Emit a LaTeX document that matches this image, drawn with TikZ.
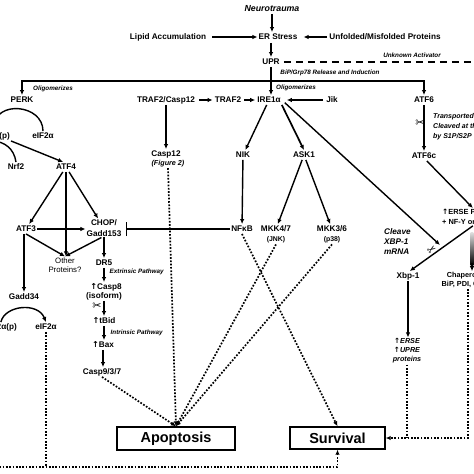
\documentclass[tikz,border=0pt]{standalone}
\usepackage{fontspec}
\setmainfont{Liberation Sans}
\newfontfamily\dv{DejaVu Sans}
\usetikzlibrary{arrows.meta}
\newcommand\upar{{\dv ↑}}
\begin{document}
\begin{tikzpicture}[x=1pt,y=-1pt,
  lb/.style={font=\bfseries\fontsize{8.2}{10}\selectfont, inner sep=1pt, text height=6pt, text depth=1.5pt},
  lbm/.style={font=\bfseries\fontsize{8.2}{10.5}\selectfont, inner sep=1pt, align=center},
  lbs/.style={font=\bfseries\fontsize{6.9}{8}\selectfont, inner sep=1pt},
  smit/.style={font=\bfseries\itshape\fontsize{6.3}{7}\selectfont, inner sep=0.5pt},
  regl/.style={font=\fontsize{7.8}{9}\selectfont, inner sep=1pt, align=center},
  outbox/.style={draw, line width=1.4pt, font=\bfseries\fontsize{14.5}{16}\selectfont, inner sep=0pt},
  scis/.style={font=\dv\fontsize{11}{11}\selectfont, inner sep=0pt},
  ln/.style={line width=1.4pt},
  arr/.style={ln, -{Latex[length=5pt,width=4.5pt]}},
  inh/.style={ln, -{Bar[width=14pt,line width=1.4pt]}},
  dot/.style={line width=1.7pt, dash pattern=on 1.7pt off 1.6pt},
  dotarr/.style={dot, -{Latex[length=5pt,width=4.5pt]}},
  dsh/.style={line width=1.4pt, dash pattern=on 7pt off 5pt}]
\useasboundingbox (0,0) rectangle (474,474);
\fill[white] (0,0) rectangle (474,474);

% ---- top ----
\node[lb, font=\bfseries\itshape\fontsize{8.8}{10}\selectfont] (neuro) at (272,9) {Neurotrauma};
\node[lb] (er) at (278,37) {ER Stress};
\node[lb] (lipid) at (168,37) {Lipid Accumulation};
\node[lb] (unf) at (385,37) {Unfolded/Misfolded Proteins};
\node[lb] (upr) at (271,62) {UPR};
\node[smit] (unk) at (412,55) {Unknown Activator};
\node[smit] (bip) at (330,73) {BiP/Grp78 Release and Induction};
\node[smit] (olig1) at (296,88) {Oligomerizes};
\node[smit] (olig2) at (53,89) {Oligomerizes};

% ---- sensors ----
\node[lb] (perk) at (22,100) {PERK};
\node[lb] (trafc) at (166,100) {TRAF2/Casp12};
\node[lb] (traf) at (228,100) {TRAF2};
\node[lb] (ire) at (269,100) {IRE1α};
\node[lb] (jik) at (332,100) {Jik};
\node[lb] (atf6) at (424,100) {ATF6};
\node[font=\bfseries\itshape\fontsize{7}{10}\selectfont, inner sep=0pt, align=left, anchor=west] (transp) at (433,127) {Transported to Golgi\\Cleaved at the Golgi\\by S1P/S2P};

\node[lb] (casp12) at (166,154) {Casp12};
\node[smit, font=\bfseries\itshape\fontsize{7.2}{8}\selectfont] (fig2) at (168,164) {(Figure 2)};
\node[lb] (nik) at (243,155) {NIK};
\node[lb] (ask) at (304,155) {ASK1};
\node[lb] (atf6c) at (424,156) {ATF6c};

% ---- PERK branch ----
\node[lb] (eifa) at (43,136) {eIF2α};
\node[lb, anchor=east] (eifp) at (11,136) {eIF2α(p)};
\node[lb] (nrf) at (16,167) {Nrf2};
\node[lb] (atf4) at (66,167) {ATF4};
\node[lb] (atf3) at (26,229) {ATF3};
\node[lbm] (chop) at (104,228) {CHOP/\\Gadd153};
\node[regl] (other) at (65,265) {Other\\Proteins?};
\node[lb] (dr5) at (104,263) {DR5};
\node[smit, anchor=west] (extr) at (109,272) {Extrinsic Pathway};
\node[lb] (casp8) at (106,287) {\upar Casp8};
\node[lb] (iso) at (104,296) {(isoform)};
\node[lb] (tbid) at (104,321) {\upar tBid};
\node[smit, anchor=west] (intr) at (110,333) {Intrinsic Pathway};
\node[lb] (bax) at (103,345) {\upar Bax};
\node[lb] (casp9) at (102,372) {Casp9/3/7};
\node[lb] (gadd34) at (24,297) {Gadd34};
\node[lb] (eif2) at (46,327) {eIF2α};
\node[lb, anchor=east] (eifp2) at (18,327) {eIF2α(p)};

% ---- IRE1 branch ----
\node[lb] (nfkb) at (242,229) {NFκB};
\node[lb] (mkk47) at (276,229) {MKK4/7};
\node[lbs] (jnk) at (276,240) {(JNK)};
\node[lb] (mkk36) at (332,229) {MKK3/6};
\node[lbs] (p38) at (332,240) {(p38)};
\node[font=\bfseries\itshape\fontsize{8.2}{10}\selectfont, inner sep=0pt, align=left, anchor=west] (cleave) at (384,242) {Cleave\\XBP-1\\mRNA};
\node[lb] (xbp) at (408,276) {Xbp-1};
\node[font=\bfseries\itshape\fontsize{7.2}{9}\selectfont, inner sep=1pt, align=center] (prot) at (407,351) {\upar ERSE\\\upar UPRE\\proteins};
\node[font=\bfseries\fontsize{7.4}{10}\selectfont, inner sep=1pt, align=left, anchor=north west] (erse) at (441,208) {\upar ERSE Promoter\\+ NF-Y or YY1};
\node[font=\bfseries\fontsize{7.3}{8.5}\selectfont, inner sep=1pt, align=center] (chap) at (468,280) {Chaperones\\BiP, PDI, Grp94};

% ---- outcomes ----
\node[outbox, minimum width=118pt, minimum height=23pt] (apop) at (176,438.5) {Apoptosis};
\node[outbox, minimum width=95pt, minimum height=22pt] (surv) at (337.5,438) {Survival};

% ---- scissors ----
\node[scis] (sc1) at (420,123) {✂};
\node[scis] (sc2) at (97,306) {✂};
\node[scis, rotate=35] (sc3) at (432,250) {✂};

% ---- coordinates ----
\coordinate (bar) at (272,81);
\coordinate (dashend) at (478,62);
\coordinate (cut) at (440,245);
\coordinate (botL) at (-4,467);
\coordinate (gbot) at (472,263);

% ---- connectors: top ----
\draw[arr] (neuro.south) -- (neuro.south |- er.north);
\draw[arr, shorten <=5pt] (lipid.east) -- (er.west);
\draw[arr, shorten <=1pt, shorten >=5pt] (unf.west) -- (er.east);
\draw[arr, shorten <=1pt] (upr.north |- er.south) -- (upr.north);
\draw[dsh, shorten <=3pt] (upr.east) -- (dashend);
\draw[arr] (upr.south) -- (upr.south |- ire.north);
\draw[arr] (bar) -| (perk.north);
\draw[arr] (bar) -| (atf6.north);
\draw[arr, shorten <=3pt, shorten >=1pt] (trafc.east) -- (traf.west);
\draw[arr, shorten <=2pt, shorten >=1pt] (traf.east) -- (ire.west);
\draw[arr, shorten <=2pt, shorten >=5pt] (jik.west) -- (ire.east);
\draw[arr] (trafc.south) -- (trafc.south |- casp12.north);

% ---- IRE1 ----
\draw[arr] (ire) -- (nik);
\draw[arr, line width=1.7pt] (ire.south east) -- (ask.north);
\draw[arr, shorten <=4pt] (ire.east) -- (cut);
\draw[arr] (nik) -- (nfkb);
\draw[arr] (ask) -- (mkk47);
\draw[arr] (ask) -- (mkk36);
\draw[inh, shorten >=3pt] (nfkb.west) -- (nfkb.west -| chop.east);

% ---- ATF6 ----
\draw[arr] (atf6) -- (atf6c);
\draw[arr] (atf6c.-60) -- (erse.north);
\draw[arr] (erse.south) -- (xbp.70);
\shade[top color=black!12, bottom color=black] (470.6,232) rectangle (473.4,265);
\draw[arr] (gbot) -- (gbot |- chap.north);
\draw[arr] (xbp.south) -- (xbp.south |- prot.north);
\draw[dot] (prot.south) -- (prot.south |- surv.east);
\draw[dotarr] (chap.south) |- (surv.east);

% ---- PERK ----
\draw[ln, -{Latex[length=5pt,width=4.5pt]}] (eifa.north) .. controls (43,104) and (-5,100) .. (eifp.north);
\draw[ln] (eifp.south) .. controls (4,142) and (14,148) .. (nrf.north);
\draw[arr] (eifp.south east) -- (atf4.120);
\draw[arr] (atf4) -- (atf3);
\draw[arr] (atf4.south) -- (atf4.south |- other.north);
\draw[arr] (atf4) -- (chop);
\draw[arr] (atf3.east) -- (atf3.east -| chop.west);
\draw[arr] (atf3.south) -- (other.north);
\draw[arr] (chop.-105) -- (other.north);
\draw[arr] (atf3.south -| gadd34) -- (gadd34.north);
\draw[arr] (chop.south) -- (chop.south |- dr5.north);
\draw[arr] (dr5.south) -- (dr5.south |- casp8.north);
\draw[arr] (iso.south) -- (iso.south |- tbid.north);
\draw[arr] (tbid.south) -- (tbid.south |- bax.north);
\draw[arr] (bax.south) -- (bax.south |- casp9.north);
\draw[arr] (eifp2.north) .. controls (5,305) and (38,302) .. (eif2.north);

% ---- dotted outcomes ----
\draw[dotarr] (fig2.south) -- (apop.north);
\draw[dotarr] (casp9.south) -- (apop.north);
\draw[dotarr] (jnk.south) -- (apop.north);
\draw[dotarr] (p38.south) -- (apop.north);
\draw[dotarr] (nfkb.south) -- (surv.north);
\draw[dot] (eif2.south) -- (eif2.south |- botL);
\draw[dotarr] (botL) -| (surv.south);
\end{tikzpicture}
\end{document}
